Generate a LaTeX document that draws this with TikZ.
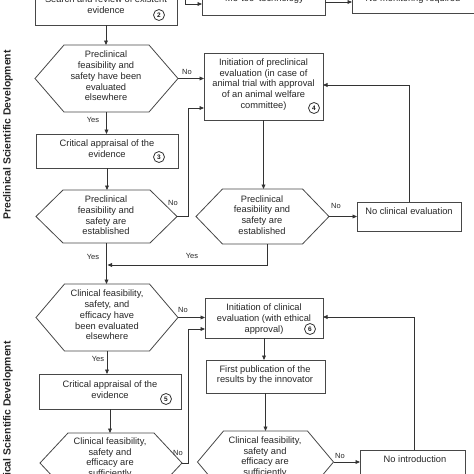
\documentclass[tikz,border=0pt]{standalone}
\usepackage{fontspec}
\setmainfont{Liberation Sans}
\usetikzlibrary{arrows.meta,calc}
\begin{document}
\begin{tikzpicture}[x=1pt,y=-1pt,
  ln/.style={draw=black!72,line width=0.8pt},
  arr/.style={draw=black!80,line width=0.8pt,-{Triangle[length=4.5pt,width=3.8pt]}},
  boxn/.style={ln,rectangle,inner sep=0pt,outer sep=0pt},
  core/.style={rectangle,inner sep=0pt,outer sep=0pt,draw=none},
  txt/.style={inner sep=0pt,align=center,text=black!85,font=\fontsize{9.3}{10.7}\selectfont},
  lab/.style={inner sep=0pt,text=black!85,font=\fontsize{7.5}{8}\selectfont},
  numc/.style={circle,draw=black!80,line width=0.8pt,inner sep=0pt,minimum size=11pt,text=black!90,font=\fontsize{6.5}{7}\bfseries},
  sidelab/.style={inner sep=0pt,text=black!85,font=\fontsize{10.4}{12}\bfseries,rotate=90}
]
\useasboundingbox (0,0) rectangle (474,474);
\clip (0,0) rectangle (474,474);

% ---------- top boxes ----------
\node[boxn,minimum width=142pt,minimum height=55pt] (b2) at (106,-2.5) {};
\node[txt] (b2t) at (106,4.5) {Search and review of existent\\evidence};
\node[numc] (c2) at (159,15) {2};

\node[boxn,minimum width=123pt,minimum height=45pt] (bmt) at (263.5,-7.5) {};
\node[txt] (bmtt) at (263.5,-1) {`Me-too' technology};

\node[boxn,minimum width=128pt,minimum height=43pt] (bnm) at (416,-8.5) {};
\node[txt] (bnmt) at (413,-1) {No monitoring required};

\coordinate (tin) at (185,-15);
\draw[arr] (tin) |- ($(bmt.south west)+(0,-11)$);
\draw[arr] ($(bmt.south east)+(0,-13)$) -- ($(bnm.south west)+(0,-11)$);

% ---------- preclinical ----------
\node[core,minimum width=85pt,minimum height=67pt] (h1) at (106.5,78.5) {};
\draw[ln] (h1.north west) -- (h1.north east) -- ($(h1.east)+(29,0)$) coordinate (h1r)
  -- (h1.south east) -- (h1.south west) -- ($(h1.west)+(-29,0)$) coordinate (h1l) -- cycle;
\node[txt] (h1t) at (106,76) {Preclinical\\feasibility and\\safety have been\\evaluated\\elsewhere};

\node[boxn,minimum width=119pt,minimum height=67pt] (b4) at (263.5,86.5) {};
\node[txt] (b4t) at (263.5,84.5) {Initiation of preclinical\\evaluation (in case of\\animal trial with approval\\of an animal welfare\\committee)};
\node[numc] (c4) at (314,108) {4};

\node[boxn,minimum width=142pt,minimum height=34pt] (b3) at (107,151) {};
\node[txt] (b3t) at (107,148.5) {Critical appraisal of the\\evidence};
\node[numc] (c3) at (159,157) {3};

\node[core,minimum width=87pt,minimum height=53pt] (h2) at (106.5,216.5) {};
\draw[ln] (h2.north west) -- (h2.north east) -- ($(h2.east)+(27,0)$) coordinate (h2r)
  -- (h2.south east) -- (h2.south west) -- ($(h2.west)+(-27,0)$) coordinate (h2l) -- cycle;
\node[txt] (h2t) at (106,215.5) {Preclinical\\feasibility and\\safety are\\established};

\node[core,minimum width=80pt,minimum height=55pt] (h3) at (262.5,216.5) {};
\draw[ln] (h3.north west) -- (h3.north east) -- ($(h3.east)+(26.5,0)$) coordinate (h3r)
  -- (h3.south east) -- (h3.south west) -- ($(h3.west)+(-26.5,0)$) coordinate (h3l) -- cycle;
\node[txt] (h3t) at (262,215) {Preclinical\\feasibility and\\safety are\\established};

\node[boxn,minimum width=104pt,minimum height=29pt] (bnc) at (409,216.5) {};
\node[txt] (bnct) at (409,211.5) {No clinical evaluation};

\draw[arr] (b2.south) -- (b2.south |- h1.north);
\draw[arr] (h1.south) -- (h1.south |- b3.north);
\draw[arr] (b3.south) -- (b3.south |- h2.north);
\draw[arr] (h1r) -- (h1r -| b4.west);
\draw[arr] (h2r) -- ++(11,0) |- ($(b4.south west)+(0,-12)$);
\draw[arr] (bnc.north) |- ($(b4.east)+(0,-1.5)$);
\draw[arr] (b4.south) -- (b4.south |- h3.north);
\draw[arr] (h3r) -- (h3r -| bnc.west);
\draw[arr] ($(h3.south)+(4.5,0)$) |- ($(h2.south)+(1,22)$);

\node[lab] (no1) at (187,72) {No};
\node[lab] (yes1) at (93,120) {Yes};
\node[lab] (no2) at (173,203) {No};
\node[lab] (yes2) at (93,257) {Yes};
\node[lab] (yes3) at (192,256) {Yes};
\node[lab] (no3) at (336,206) {No};

% ---------- clinical ----------
\node[core,minimum width=85pt,minimum height=67pt] (h4) at (107,317.5) {};
\draw[ln] (h4.north west) -- (h4.north east) -- ($(h4.east)+(28.5,0)$) coordinate (h4r)
  -- (h4.south east) -- (h4.south west) -- ($(h4.west)+(-28.5,0)$) coordinate (h4l) -- cycle;
\node[txt] (h4t) at (107,315) {Clinical feasibility,\\safety, and\\efficacy have\\been evaluated\\elsewhere};

\node[boxn,minimum width=118pt,minimum height=40pt] (b6) at (264,318) {};
\node[txt] (b6t) at (264,319) {Initiation of clinical\\evaluation (with ethical\\approval)};
\node[numc] (c6) at (310,329) {6};

\node[boxn,minimum width=142pt,minimum height=35pt] (b5) at (110,391.5) {};
\node[txt] (b5t) at (110,389.5) {Critical appraisal of the\\evidence};
\node[numc] (c5) at (166,399) {5};

\node[boxn,minimum width=119pt,minimum height=33pt] (bfp) at (265.5,376.5) {};
\node[txt] (bfpt) at (265,375) {First publication of the\\results by the innovator};

\node[core,minimum width=86pt,minimum height=60pt] (h5) at (111,463) {};
\draw[ln] (h5.north west) -- (h5.north east) -- ($(h5.east)+(28,0)$) coordinate (h5r)
  -- (h5.south east) -- (h5.south west) -- ($(h5.west)+(-28,0)$) coordinate (h5l) -- cycle;
\node[txt] (h5t) at (110,458) {Clinical feasibility,\\safety and\\efficacy are\\sufficiently};

\node[core,minimum width=84pt,minimum height=62pt] (h6) at (265.5,462) {};
\draw[ln] (h6.north west) -- (h6.north east) -- ($(h6.east)+(26,0)$) coordinate (h6r)
  -- (h6.south east) -- (h6.south west) -- ($(h6.west)+(-26,0)$) coordinate (h6l) -- cycle;
\node[txt] (h6t) at (265,457) {Clinical feasibility,\\safety and\\efficacy are\\sufficiently};

\node[boxn,minimum width=105pt,minimum height=50pt] (bni) at (412.5,475) {};
\node[txt] (bnit) at (415,459.5) {No introduction};

\draw[arr] (h2.south) -- (h2.south |- h4.north);
\draw[arr] (h4r) -- (h4r -| b6.west);
\draw[arr] (h4.south) -- (h4.south |- b5.north);
\draw[arr] (b5.south) -- (b5.south |- h5.north);
\draw[arr] (h5r) -- ++(6,0) |- ($(b6.south west)+(0,-9)$);
\draw[arr] ($(bni.north)+(1.5,0)$) |- ($(b6.north east)+(0,19)$);
\draw[arr] (b6.south) -- (b6.south |- bfp.north);
\draw[arr] (bfp.south) -- (bfp.south |- h6.north);
\draw[arr] (h6r) -- (h6r -| bni.west);

\node[lab] (no4) at (183,310) {No};
\node[lab] (yes4) at (98,359) {Yes};
\node[lab] (no5) at (178,453) {No};
\node[lab] (no6) at (340,456) {No};

% ---------- side labels ----------
\node[sidelab] (lp) at (8,135) {Preclinical Scientific Development};
\node[sidelab,anchor=east] (lc) at (8,341) {Clinical Scientific Development};
\end{tikzpicture}
\end{document}
